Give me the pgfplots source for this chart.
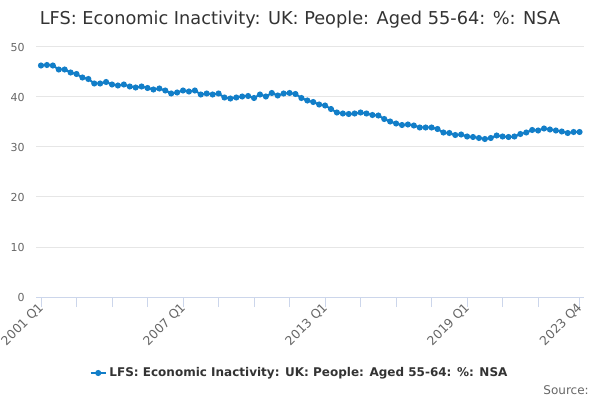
\documentclass[border=0pt]{standalone}
\usepackage{pgfplots}
\pgfplotsset{compat=1.18}
\usepackage{fontspec}
\setmainfont{DejaVu Sans}
\definecolor{linec}{RGB}{18,126,200}
\definecolor{axisc}{RGB}{204,214,235}
\definecolor{gridc}{RGB}{230,230,230}
\definecolor{titlec}{RGB}{51,51,51}
\definecolor{tickc}{RGB}{102,102,102}
\definecolor{srcc}{RGB}{102,102,102}
\begin{document}
\begin{tikzpicture}[x=1pt,y=1pt]
\path[use as bounding box] (0,0) rectangle (450,300);
\begin{axis}[
  at={(27.2pt,77.25pt)}, anchor=south west,
  scale only axis, width=411pt, height=187.5pt,
  xmin=-0.8, xmax=91.8, ymin=0, ymax=50,
  axis x line*=bottom, axis y line*=left,
  x axis line style={draw=axisc, line width=0.75pt, -},
  y axis line style={draw=none},
  ytick={0,10,...,50},
  ymajorgrids, major grid style={draw=gridc, line width=0.75pt},
  ytick style={draw=none},
  xtick={0,24,48,72,91},
  xticklabels={2001 Q1,2007 Q1,2013 Q1,2019 Q1,2023 Q4},
  extra x ticks={6,12,18,30,36,42,54,60,66,78,84},
  extra x tick labels={},
  extra x tick style={xtick style={draw=axisc, line width=0.75pt}},
  xtick style={draw=axisc, line width=0.75pt},
  tick align=outside, major tick length=7.5pt,
  yticklabel style={font=\fontsize{8.25}{10}\selectfont, text=tickc, inner sep=0pt, xshift=-1pt},
  xticklabel style={font=\fontsize{9.3}{11}\selectfont, text=tickc, rotate=45, anchor=east, inner sep=0pt, xshift=1pt, yshift=0.5pt},
  /pgf/number format/assume math mode=true,
  legend style={at={(0.481,-0.304)}, anchor=center, draw=none, fill=none,
    font=\fontsize{9}{11}\selectfont\bfseries, text=titlec},
  legend image code/.code={\draw[mark repeat=2,mark phase=2,#1] plot coordinates {(0cm,0cm) (0.2cm,0cm) (0.4cm,0cm)};},
]
\addplot[color=linec, line width=1.5pt, mark=*, mark size=1.5pt] coordinates {
(0,46.3)(1,46.4)(2,46.3)(3,45.5)(4,45.5)(5,44.9)(6,44.6)(7,43.9)(8,43.6)(9,42.7)
(10,42.7)(11,43.0)(12,42.5)(13,42.3)(14,42.5)(15,42.1)(16,41.9)(17,42.1)(18,41.8)(19,41.5)
(20,41.7)(21,41.3)(22,40.7)(23,40.9)(24,41.3)(25,41.1)(26,41.3)(27,40.5)(28,40.7)(29,40.5)
(30,40.7)(31,39.9)(32,39.7)(33,39.9)(34,40.1)(35,40.2)(36,39.8)(37,40.5)(38,40.1)(39,40.8)
(40,40.3)(41,40.7)(42,40.8)(43,40.6)(44,39.8)(45,39.3)(46,39.0)(47,38.5)(48,38.3)(49,37.6)
(50,36.9)(51,36.7)(52,36.6)(53,36.7)(54,36.9)(55,36.7)(56,36.4)(57,36.3)(58,35.6)(59,35.1)
(60,34.7)(61,34.4)(62,34.5)(63,34.3)(64,33.9)(65,33.9)(66,33.9)(67,33.6)(68,32.9)(69,32.8)
(70,32.4)(71,32.5)(72,32.1)(73,32.0)(74,31.8)(75,31.6)(76,31.8)(77,32.3)(78,32.1)(79,32.0)
(80,32.1)(81,32.6)(82,32.9)(83,33.4)(84,33.3)(85,33.7)(86,33.5)(87,33.3)(88,33.1)(89,32.8)
(90,33.0)(91,33.0)
};
\addlegendentry{LFS: Economic Inactivity: UK: People: Aged 55-64: \%: NSA}
\end{axis}
\node[text=titlec, font=\fontsize{13.3}{16}\selectfont] at (225,285.5) {LFS: Economic Inactivity: UK: People: Aged 55-64: \%: NSA};
\node[text=srcc, font=\fontsize{9}{10}\selectfont, anchor=east, inner sep=0pt] at (441.75,7.5) {Source:};
\end{tikzpicture}
\end{document}
